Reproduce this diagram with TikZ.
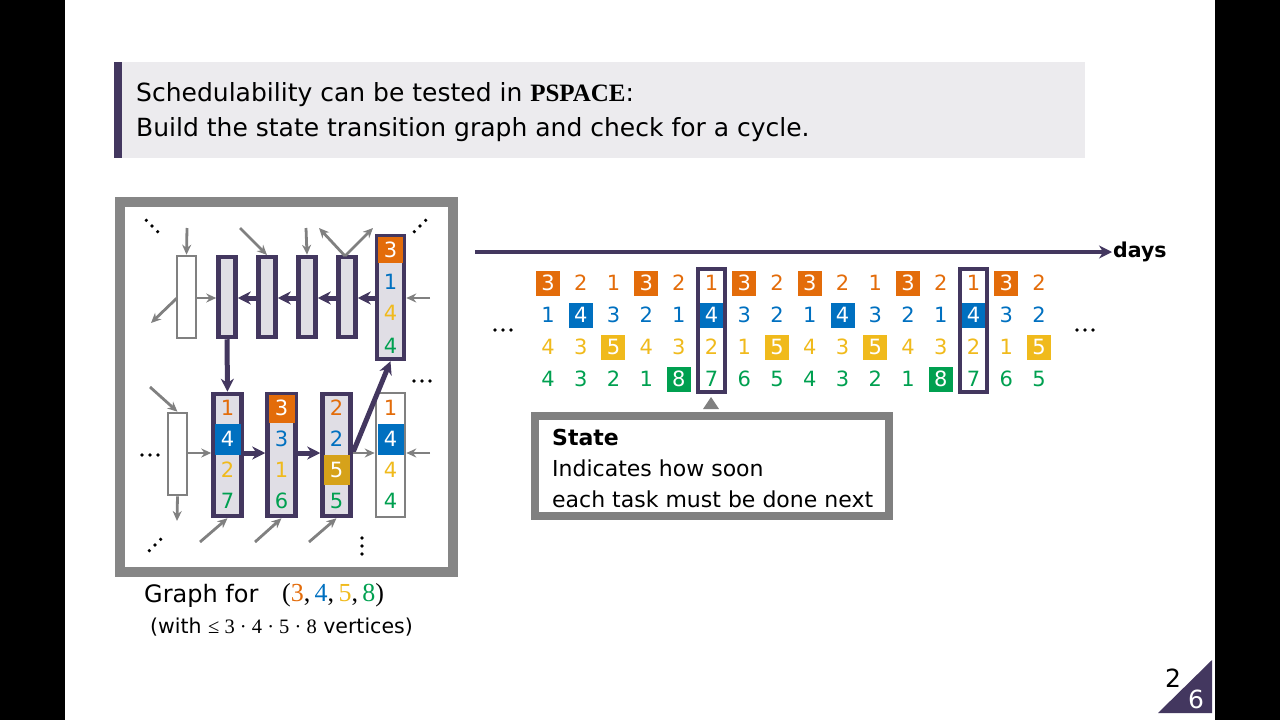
\documentclass[tikz,border=0pt]{standalone}
\usepackage{fontspec}
\setmainfont{DejaVu Sans}
\newfontfamily\serfont{Liberation Serif}
\usetikzlibrary{arrows.meta,calc}
\definecolor{cO}{HTML}{E36C0A}
\definecolor{cB}{HTML}{0070C0}
\definecolor{cY}{HTML}{F0BA1C}
\definecolor{cYd}{HTML}{D6A21A}
\definecolor{cG}{HTML}{00A050}
\definecolor{cP}{HTML}{43375F}
\definecolor{cF}{HTML}{E0DEE5}
\definecolor{cT}{HTML}{ECEBEE}
\tikzset{
 pbox/.style={draw=cP,line width=4.5pt,fill=cF},
 wbox/.style={draw=gray,line width=2.6pt,fill=white},
 garr/.style={draw=gray,line width=2.8pt,-{Stealth[length=10pt,width=9pt]}},
 parr/.style={draw=cP,line width=5pt,-{Stealth[length=13pt,width=13pt]}},
 num/.style={font=\fontsize{21}{21}\selectfont,inner sep=0pt},
 hl/.style={minimum width=24pt,minimum height=25pt,inner sep=0pt,text=white,font=\fontsize{21}{21}\selectfont}
}
\newcommand\threedots[3]{%
  \foreach \k in {-1,0,1} \fill[black] ($(#1,#2)+(#3:{8*\k})$) circle (1.8pt);}
\begin{document}
\begin{tikzpicture}[x=1pt,y=-1pt]
\useasboundingbox (0,0) rectangle (1280,720);
\fill[black] (0,0) rectangle (65,720);
\fill[black] (1215,0) rectangle (1280,720);
% title
\fill[cT] (114,62) rectangle (1085,158);
\fill[cP] (114,62) rectangle (122,158);
\node[anchor=west,inner sep=0pt,font=\fontsize{25}{25}\selectfont] (t1) at (136,95) {Schedulability can be tested in {\serfont\bfseries PSPACE}:};
\node[anchor=west,inner sep=0pt,font=\fontsize{25}{25}\selectfont] (t2) at (136,130) {Build the state transition graph and check for a cycle.};
% left frame
\draw[gray!95,line width=10pt] (120,202) rectangle (453,572);
% top row
\node[wbox,minimum width=19pt,minimum height=82pt,inner sep=0pt] (w1) at (186.5,297) {};
\foreach \n/\x in {a/227,b/267,c/307,d/347}
  \node[pbox,minimum width=17pt,minimum height=80pt,inner sep=0pt] (\n) at (\x,297) {};
\node[pbox,minimum width=27pt,minimum height=123pt,inner sep=0pt] (e) at (390.5,297.5) {};
\fill[cO] (378,237) rectangle (403,263);
\node[num,text=white] at (390.5,250) {3};
\node[num,text=cB] at (390.5,282) {1};
\node[num,text=cY] at (390.5,313) {4};
\node[num,text=cG] at (390.5,346) {4};
\draw[parr] (e.west|-0,298) -- (d.east|-0,298);
\draw[parr] (d.west|-0,298) -- (c.east|-0,298);
\draw[parr] (c.west|-0,298) -- (b.east|-0,298);
\draw[parr] (b.west|-0,298) -- (a.east|-0,298);
% bottom row
\node[wbox,minimum width=19pt,minimum height=82pt,inner sep=0pt] (w2) at (177.5,454) {};
\foreach \n/\x in {p/227.5,q/281.5,r/336.5}
  \node[pbox,minimum width=28pt,minimum height=122pt,inner sep=0pt] (\n) at (\x,455) {};
\node[wbox,minimum width=29pt,minimum height=124pt,inner sep=0pt] (s) at (390.5,455) {};
\fill[cB] (214.5,423.5) rectangle (240.5,454.5);
\fill[cO] (268.5,394.5) rectangle (294.5,423);
\fill[cYd] (323.5,454.5) rectangle (349.5,485);
\fill[cB] (377.5,423.5) rectangle (403.5,454.5);
\foreach \x/\a/\ca/\b/\cb/\c/\cc/\d/\cd in {227.5/1/cO/4/white/2/cY/7/cG, 281.5/3/white/3/cB/1/cY/6/cG, 336.5/2/cO/2/cB/5/white/5/cG, 390.5/1/cO/4/white/4/cY/4/cG}{
  \node[num,text=\ca] at (\x,408) {\a};
  \node[num,text=\cb] at (\x,439) {\b};
  \node[num,text=\cc] at (\x,470) {\c};
  \node[num,text=\cd] at (\x,501) {\d};
}
\draw[parr] (a.south) -- (p.north);
\draw[parr] (p.east|-0,453) -- (q.west|-0,453);
\draw[parr] (q.east|-0,453) -- (r.west|-0,453);
\draw[parr] (r.east|-0,453) -- (e.south);
% gray arrows
\coordinate (g1) at (187,228); \draw[garr] (g1) -- (w1.north);
\coordinate (g2) at (240,228); \draw[garr] (g2) -- (267,255);
\coordinate (g3) at (306,228); \draw[garr] (g3) -- (c.north);
\coordinate (g4) at (319,228); \coordinate (g5) at (373,228);
\draw[garr] (345,256) -- (g4); \draw[garr] (345,256) -- (g5);
\draw[garr] (w1.east|-0,298) -- (a.west|-0,298);
\coordinate (g6) at (151,323); \draw[garr] (177,298) -- (g6);
\coordinate (g7) at (430,298); \draw[garr] (g7) -- (e.east|-0,298);
\coordinate (g8) at (150,387); \draw[garr] (g8) -- (w2.north);
\draw[garr] (w2.east|-0,453) -- (p.west|-0,453);
\coordinate (g9) at (177,521); \draw[garr] (w2.south) -- (g9);
\coordinate (h1) at (200,542); \draw[garr] (h1) -- (p.south);
\coordinate (h2) at (255,542); \draw[garr] (h2) -- (q.south);
\coordinate (h3) at (309,542); \draw[garr] (h3) -- (r.south);
\draw[garr] (r.east|-0,453) -- (s.west|-0,453);
\coordinate (h4) at (430,453); \draw[garr] (h4) -- (s.east|-0,453);
% dots
\threedots{152}{226}{45}
\threedots{420}{226}{-45}
\threedots{422}{381}{0}
\threedots{150}{455}{0}
\threedots{155}{545}{-45}
\threedots{362}{546}{90}
% caption
\node[anchor=west,inner sep=0pt,font=\fontsize{24}{24}\selectfont] (cap) at (144,596) {Graph for};
\node[anchor=west,inner sep=0pt,font=\fontsize{26}{26}\selectfont\serfont] (tup) at (282,595) {(\textcolor{cO}{3},\,\textcolor{cB}{4},\,\textcolor{cY}{5},\,\textcolor{cG}{8})};
\node[anchor=west,inner sep=0pt,font=\fontsize{20.5}{20}\selectfont] (cap2) at (150,627) {(with {\serfont≤ 3 · 4 · 5 · 8} vertices)};
% days axis
\coordinate (d0) at (475,252);
\node[anchor=west,inner sep=1pt,font=\fontsize{20.5}{20}\selectfont\bfseries] (days) at (1112,252) {days};
\draw[parr,line width=4.5pt] (d0) -- (days.west);
% sequence
\def\rowA{3,2,1,3,2,1,3,2,3,2,1,3,2,1,3,2}
\def\rowB{1,4,3,2,1,4,3,2,1,4,3,2,1,4,3,2}
\def\rowC{4,3,5,4,3,2,1,5,4,3,5,4,3,2,1,5}
\def\rowD{4,3,2,1,8,7,6,5,4,3,2,1,8,7,6,5}
\foreach \v [count=\i from 0] in \rowA {\pgfmathsetmacro\xx{548+32.73*\i}
  \ifnum\v=3 \node[hl,fill=cO] at (\xx,283) {\v};\else\node[num,text=cO] at (\xx,283) {\v};\fi}
\foreach \v [count=\i from 0] in \rowB {\pgfmathsetmacro\xx{548+32.73*\i}
  \ifnum\v=4 \node[hl,fill=cB] at (\xx,315) {\v};\else\node[num,text=cB] at (\xx,315) {\v};\fi}
\foreach \v [count=\i from 0] in \rowC {\pgfmathsetmacro\xx{548+32.73*\i}
  \ifnum\v=5 \node[hl,fill=cY] at (\xx,347) {\v};\else\node[num,text=cY] at (\xx,347) {\v};\fi}
\foreach \v [count=\i from 0] in \rowD {\pgfmathsetmacro\xx{548+32.73*\i}
  \ifnum\v=8 \node[hl,fill=cG] at (\xx,379) {\v};\else\node[num,text=cG] at (\xx,379) {\v};\fi}
\node[draw=cP,line width=3.5pt,minimum width=27pt,minimum height=123pt,inner sep=0pt] (st1) at (711.7,330.5) {};
\node[draw=cP,line width=3.5pt,minimum width=27pt,minimum height=123pt,inner sep=0pt] (st2) at (973.5,330.5) {};
\threedots{503}{330}{0}
\threedots{1085}{330}{0}
% state box
\fill[gray] (703,409) -- (711,397) -- (719,409) -- cycle;
\node[draw=gray,line width=8pt,fill=white,minimum width=354pt,minimum height=100pt,inner sep=0pt] (sb) at (712,466) {};
\node[anchor=west,inner sep=0pt,font=\fontsize{22}{22}\selectfont\bfseries] at (552,437) {State};
\node[anchor=west,inner sep=0pt,font=\fontsize{22}{22}\selectfont] at (552,468) {Indicates how soon};
\node[anchor=west,inner sep=0pt,font=\fontsize{22}{22}\selectfont] at (552,499) {each task must be done next};
% page number
\fill[cP] (1158,713) -- (1212,660) -- (1212,713) -- cycle;
\node[inner sep=0pt,font=\fontsize{25}{25}\selectfont] at (1173,678) {2};
\node[inner sep=0pt,text=white,font=\fontsize{25}{25}\selectfont] at (1196,699) {6};
\end{tikzpicture}
\end{document}
